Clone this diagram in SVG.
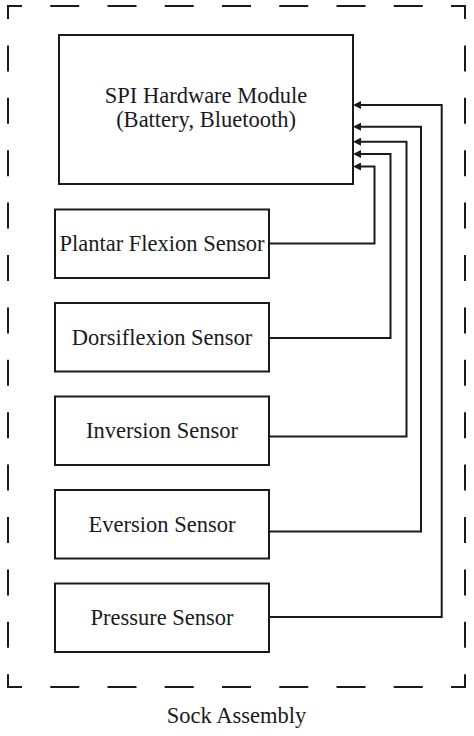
<svg xmlns="http://www.w3.org/2000/svg" width="474" height="736" viewBox="0 0 474 736">
<style>
.box{fill:#fff;stroke:#1a1a1a;stroke-width:2}
.lbl{font-family:"Liberation Serif","Times New Roman",serif;font-size:22.5px;fill:#1a1a1a;text-anchor:middle}
.con{fill:none;stroke:#1a1a1a;stroke-width:2;stroke-linejoin:miter}
.border{stroke:#1a1a1a;stroke-width:2;fill:none}
</style>
<defs>
<marker id="ah" markerUnits="userSpaceOnUse" markerWidth="8" markerHeight="8" refX="3" refY="4" orient="auto">
<path d="M0,0 L8,4 L0,8 z" fill="#1a1a1a"/>
</marker>
</defs>
<rect width="474" height="736" fill="#fff"/>
<g id="sock-assembly">
<line class="border" x1="7" y1="6" x2="466" y2="6" stroke-dasharray="29 28.25" stroke-dashoffset="14"/>
<line class="border" x1="7" y1="687" x2="466" y2="687" stroke-dasharray="29 28.25" stroke-dashoffset="14"/>
<line class="border" x1="8" y1="5" x2="8" y2="688" stroke-dasharray="26 26.4" stroke-dashoffset="12"/>
<line class="border" x1="465" y1="5" x2="465" y2="688" stroke-dasharray="26 26.4" stroke-dashoffset="12"/>
<text class="lbl" x="236.5" y="723">Sock Assembly</text>
</g>
<g id="spi-module">
<rect class="box" x="59" y="35" width="294" height="149"/>
<text class="lbl" x="206" y="102.5">SPI Hardware Module</text>
<text class="lbl" x="206" y="126.5">(Battery, Bluetooth)</text>
</g>
<g id="plantar-flexion">
<rect class="box" x="55" y="209.5" width="214" height="68.5"/>
<text class="lbl" x="162" y="251">Plantar Flexion Sensor</text>
</g>
<g id="dorsiflexion">
<rect class="box" x="55" y="303" width="214" height="68.5"/>
<text class="lbl" x="162" y="345">Dorsiflexion Sensor</text>
</g>
<g id="inversion">
<rect class="box" x="55" y="396.5" width="214" height="68.5"/>
<text class="lbl" x="162" y="438.3">Inversion Sensor</text>
</g>
<g id="eversion">
<rect class="box" x="55" y="490" width="214" height="68.5"/>
<text class="lbl" x="162" y="531.8">Eversion Sensor</text>
</g>
<g id="pressure">
<rect class="box" x="55" y="583.5" width="214" height="68.5"/>
<text class="lbl" x="162" y="625.2">Pressure Sensor</text>
</g>
<g id="connectors">
<path class="con" d="M269,243.5 H374.5 V166.5 H358" marker-end="url(#ah)"/>
<path class="con" d="M269,338 H390.5 V154 H358" marker-end="url(#ah)"/>
<path class="con" d="M269,436.5 H406.5 V141.7 H358" marker-end="url(#ah)"/>
<path class="con" d="M269,531.5 H421 V126.7 H358" marker-end="url(#ah)"/>
<path class="con" d="M269,617 H441.7 V105 H358" marker-end="url(#ah)"/>
</g>
</svg>
